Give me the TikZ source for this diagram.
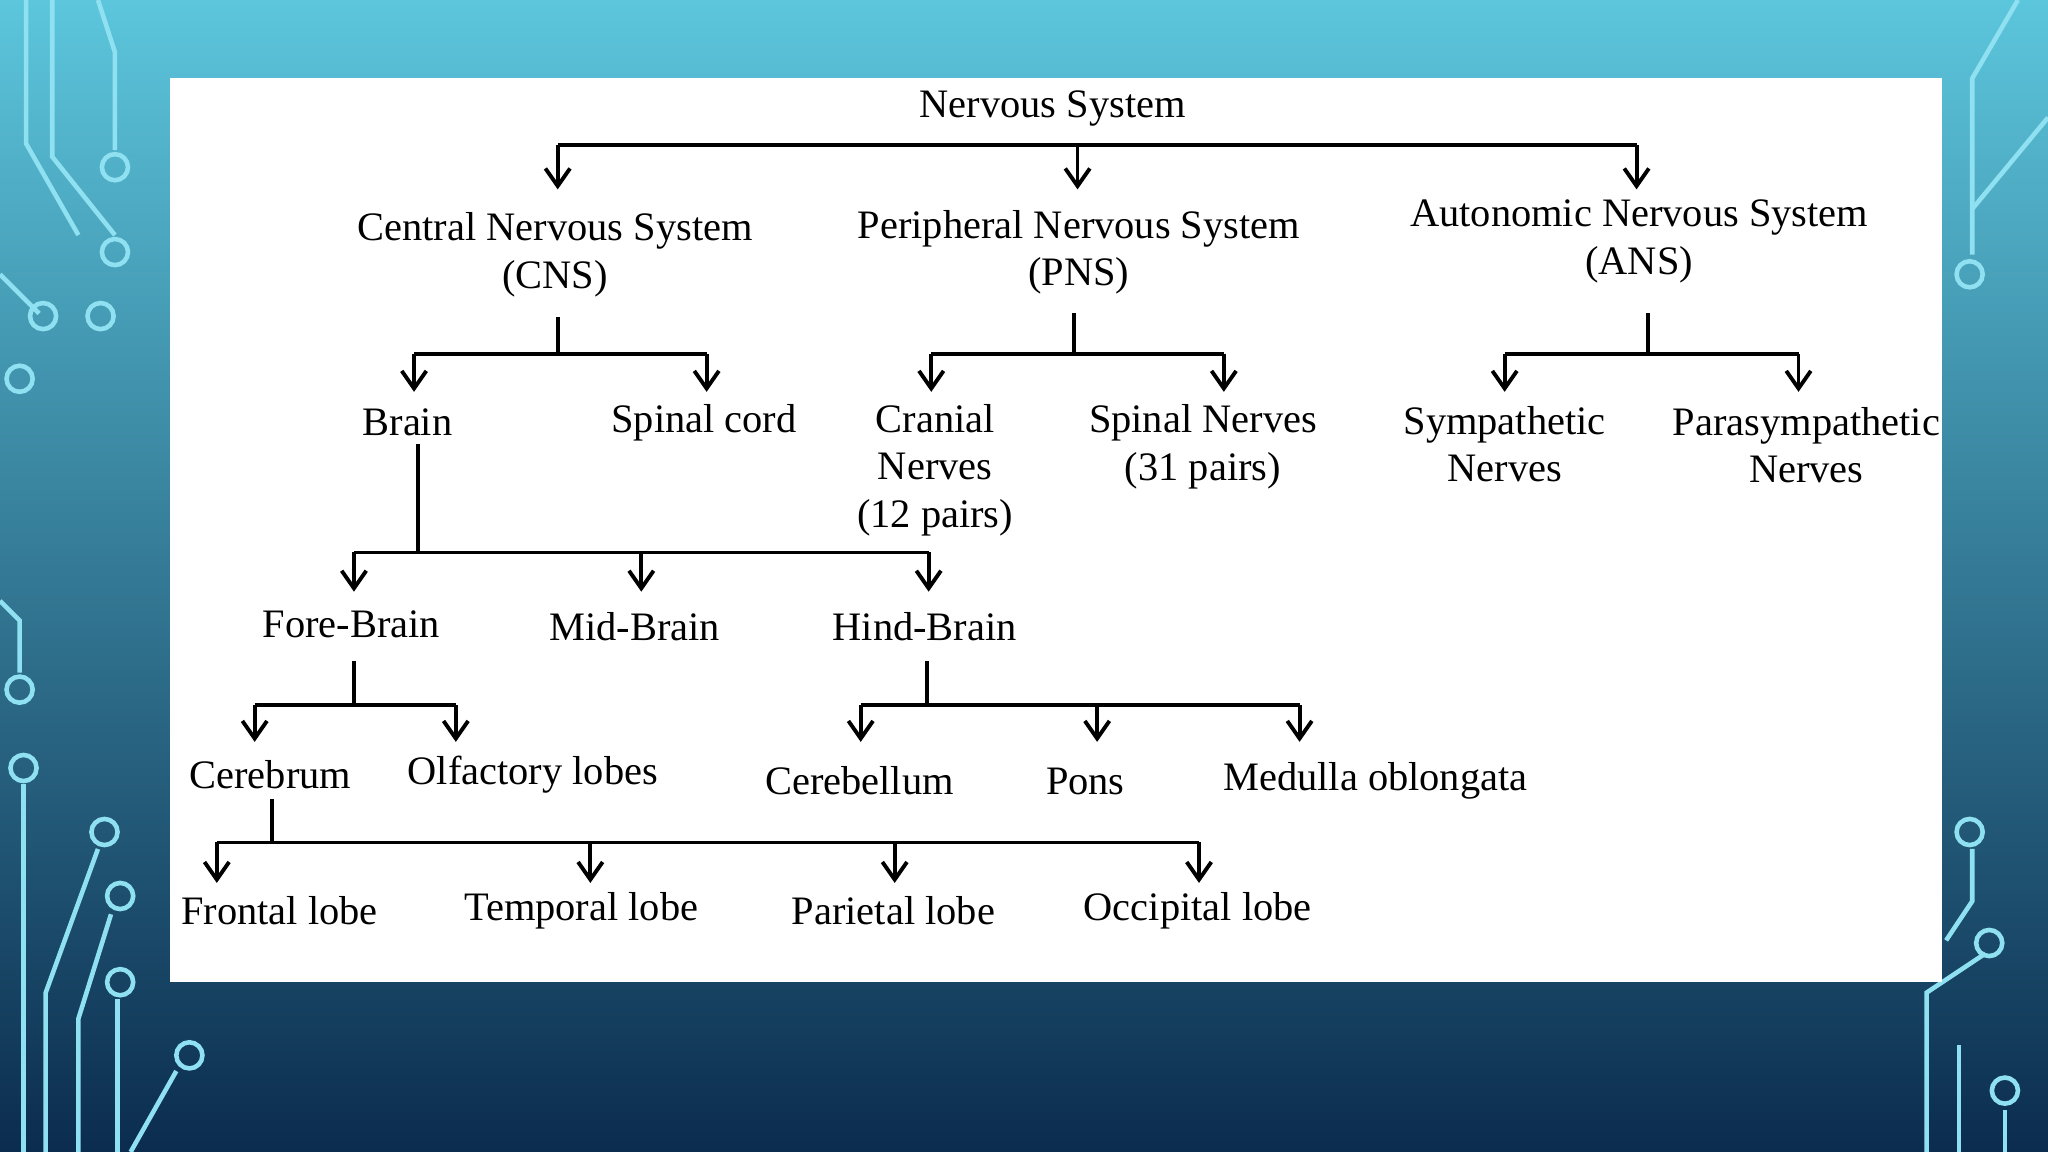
\documentclass[tikz,border=0pt]{standalone}
\usepackage{fontspec}
\setmainfont{Liberation Serif}
\usetikzlibrary{arrows.meta}

\definecolor{skytop}{HTML}{5CC6DC}
\definecolor{navybot}{HTML}{0B2C4E}
\definecolor{wire}{HTML}{8FE0F0}

\begin{document}
\begin{tikzpicture}[
  x=0.01306cm, y=-0.01306cm,
  lbl/.style={font=\fontsize{11.5}{13.5}\selectfont, align=center, inner sep=1pt},
  bar/.style={line width=1.1pt},
  arr/.style={line width=1.1pt, -{Straight Barb[length=5pt,width=7pt,line width=1.1pt]}},
  circ/.style={wire, line width=1.3pt},
  trace/.style={wire, line width=1.3pt}
]

% background
\shade[top color=skytop, bottom color=navybot] (0,0) rectangle (1568,882);
\useasboundingbox (0,0) rectangle (1568,882);

% circuit traces
\draw[trace] (20,0) -- (20,110) -- (60,180);
\draw[trace] (40,0) -- (40,120) -- (88,180);
\draw[trace] (75,0) -- (88,40) -- (88,115);
\draw[trace] (0,210) -- (30,240);
\draw[trace] (0,460) -- (15,475) -- (15,515);
\draw[trace] (18,600) -- (18,882);
\draw[trace] (35,882) -- (35,760) -- (75,650);
\draw[trace] (60,882) -- (60,780) -- (85,700);
\draw[trace] (90,882) -- (90,765);
\draw[trace] (100,882) -- (135,820);
\draw[trace] (1545,0) -- (1510,60) -- (1510,195);
\draw[trace] (1568,90) -- (1510,160);
\draw[trace] (1490,720) -- (1510,690) -- (1510,650);
\draw[trace] (1475,882) -- (1475,760) -- (1520,730);
\draw[trace] (1500,882) -- (1500,800);
\draw[trace] (1535,882) -- (1535,850);
\foreach \cx/\cy in {88/128,88/193,77/242,33/242,15/290,15/528,18/588,80/637,92/686,92/752,145/808,1508/210,1508/637,1523/722,1535/835}
  \draw[circ] (\cx,\cy) circle (10);

% white panel
\fill[white] (130,60) rectangle (1487,752);

% nodes
\node[lbl] (ns) at (806,83) {Nervous System};
\node[lbl] (cns) at (425,195) {Central Nervous System\\(CNS)};
\node[lbl] (pns) at (826,193) {Peripheral Nervous System\\(PNS)};
\node[lbl] (ans) at (1255,185) {Autonomic Nervous System\\(ANS)};

\node[lbl] (brain) at (312,323) {Brain};
\node[lbl] (cord) at (539,324) {Spinal cord};
\node[lbl] (cranial) at (716,360) {Cranial\\Nerves\\(12 pairs)};
\node[lbl] (spnerves) at (921,342) {Spinal Nerves\\(31 pairs)};
\node[lbl] (symp) at (1152,340) {Sympathetic\\Nerves};
\node[lbl] (para) at (1383,341) {Parasympathetic\\Nerves};

\node[lbl] (fore) at (269,478) {Fore-Brain};
\node[lbl] (mid) at (486,480) {Mid-Brain};
\node[lbl] (hind) at (708,480) {Hind-Brain};

\node[lbl] (cerebrum) at (207,593) {Cerebrum};
\node[lbl] (olf) at (408,593) {Olfactory lobes};
\node[lbl] (cbl) at (658,598) {Cerebellum};
\node[lbl] (pons) at (831,598) {Pons};
\node[lbl] (med) at (1053,598) {Medulla oblongata};

\node[lbl] (frontal) at (214,697) {Frontal lobe};
\node[lbl] (temporal) at (445,697) {Temporal lobe};
\node[lbl] (parietal) at (684,697) {Parietal lobe};
\node[lbl] (occipital) at (917,697) {Occipital lobe};

% junction points
\coordinate (t1) at (427,111);  \coordinate (t2) at (1253,111);
\coordinate (c0) at (427,243);  \coordinate (c1) at (317,271); \coordinate (c2) at (541,271);
\coordinate (p0) at (822,240);  \coordinate (p1) at (713,271); \coordinate (p2) at (937,271);
\coordinate (a0) at (1262,240); \coordinate (a1) at (1152,271); \coordinate (a2) at (1377,271);
\coordinate (b0) at (320,340);  \coordinate (b1) at (271,423); \coordinate (b2) at (711,423);
\coordinate (f0) at (271,506);  \coordinate (f1) at (195,540); \coordinate (f2) at (349,540);
\coordinate (h0) at (710,506);  \coordinate (h1) at (659,540); \coordinate (h2) at (995,540);
\coordinate (r0) at (208,612);  \coordinate (r1) at (166,645); \coordinate (r2) at (918,645);

% top level
\draw[bar] (t1) -- (t2);
\foreach \x/\n in {427/cns,825/pns,1253/ans}
  \draw[arr] (\x,111) -- (\x,145);

% second level
\foreach \s/\l/\r in {c/c1/c2,p/p1/p2,a/a1/a2}{
  \draw[bar] (\s0) -- (\s0 |- \l);
  \draw[bar] (\l) -- (\r);
}
\foreach \x in {317,541,713,937,1152,1377}
  \draw[arr] (\x,271) -- (\x,300);

% brain parts
\draw[bar] (b0) -- (b0 |- b1);
\draw[bar] (b1) -- (b2);
\foreach \x in {271,491,711}
  \draw[arr] (\x,423) -- (\x,453);

% fore and hind brain
\draw[bar] (f0) -- (f0 |- f1);
\draw[bar] (f1) -- (f2);
\draw[bar] (h0) -- (h0 |- h1);
\draw[bar] (h1) -- (h2);
\foreach \x in {195,349,659,840,995}
  \draw[arr] (\x,540) -- (\x,568);

% lobes
\draw[bar] (r0) -- (r0 |- r1);
\draw[bar] (r1) -- (r2);
\foreach \x in {166,452,685,918}
  \draw[arr] (\x,645) -- (\x,676);

\end{tikzpicture}
\end{document}
